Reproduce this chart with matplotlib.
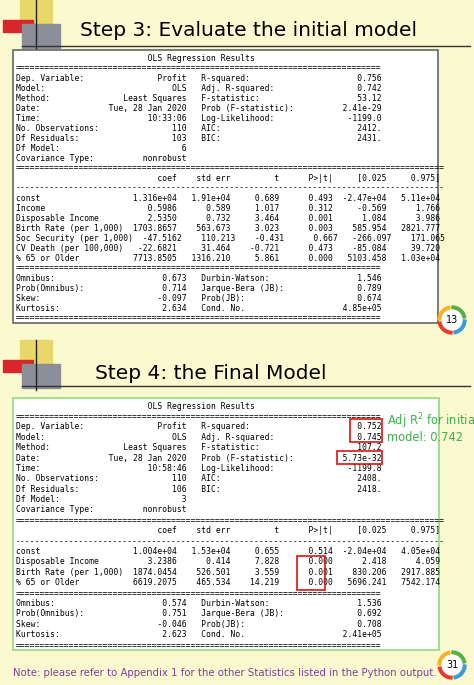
import matplotlib.pyplot as plt
from matplotlib.patches import Rectangle, Circle, Wedge

# ---- data: initial model (step 3) ----
info1_left = [("Dep. Variable:", "Profit"), ("Model:", "OLS"), ("Method:", "Least Squares"),
              ("Date:", "Tue, 28 Jan 2020"), ("Time:", "10:33:06"), ("No. Observations:", "110"),
              ("Df Residuals:", "103"), ("Df Model:", "6"), ("Covariance Type:", "nonrobust")]
info1_right = [("R-squared:", "0.756"), ("Adj. R-squared:", "0.742"), ("F-statistic:", "53.12"),
               ("Prob (F-statistic):", "2.41e-29"), ("Log-Likelihood:", "-1199.0"), ("AIC:", "2412."),
               ("BIC:", "2431."), ("", ""), ("", "")]
coef1_names = ["const", "Income", "Disposable Income", "Birth Rate (per 1,000)",
               "Soc Security (per 1,000)", "CV Death (per 100,000)", "% 65 or Older"]
coef1_vals = [["1.316e+04", "1.91e+04", "0.689", "0.493", "-2.47e+04", "5.11e+04"],
              ["0.5986", "0.589", "1.017", "0.312", "-0.569", "1.766"],
              ["2.5350", "0.732", "3.464", "0.001", "1.084", "3.986"],
              ["1703.8657", "563.673", "3.023", "0.003", "585.954", "2821.777"],
              ["-47.5162", "110.213", "-0.431", "0.667", "-266.097", "171.065"],
              ["-22.6821", "31.464", "-0.721", "0.473", "-85.084", "39.720"],
              ["7713.8505", "1316.210", "5.861", "0.000", "5103.458", "1.03e+04"]]
diag1 = [("Omnibus:", "0.673", "Durbin-Watson:", "1.546"), ("Prob(Omnibus):", "0.714", "Jarque-Bera (JB):", "0.789"),
         ("Skew:", "-0.097", "Prob(JB):", "0.674"), ("Kurtosis:", "2.634", "Cond. No.", "4.85e+05")]

# ---- data: final model (step 4) ----
info2_left = [("Dep. Variable:", "Profit"), ("Model:", "OLS"), ("Method:", "Least Squares"),
              ("Date:", "Tue, 28 Jan 2020"), ("Time:", "10:58:46"), ("No. Observations:", "110"),
              ("Df Residuals:", "106"), ("Df Model:", "3"), ("Covariance Type:", "nonrobust")]
info2_right = [("R-squared:", "0.752"), ("Adj. R-squared:", "0.745"), ("F-statistic:", "107.2"),
               ("Prob (F-statistic):", "5.73e-32"), ("Log-Likelihood:", "-1199.8"), ("AIC:", "2408."),
               ("BIC:", "2418."), ("", ""), ("", "")]
coef2_names = ["const", "Disposable Income", "Birth Rate (per 1,000)", "% 65 or Older"]
coef2_vals = [["1.004e+04", "1.53e+04", "0.655", "0.514", "-2.04e+04", "4.05e+04"],
              ["3.2386", "0.414", "7.828", "0.000", "2.418", "4.059"],
              ["1874.0454", "526.501", "3.559", "0.001", "830.206", "2917.885"],
              ["6619.2075", "465.534", "14.219", "0.000", "5696.241", "7542.174"]]
diag2 = [("Omnibus:", "0.574", "Durbin-Watson:", "1.536"), ("Prob(Omnibus):", "0.751", "Jarque-Bera (JB):", "0.692"),
         ("Skew:", "-0.046", "Prob(JB):", "0.708"), ("Kurtosis:", "2.623", "Cond. No.", "2.41e+05")]

headers = ["coef", "std err", "t", "P>|t|", "[0.025", "0.975]"]
widths = [10, 11, 10, 11, 11, 11]


def summary_lines(left, right, names, vals, diag):
    lines = ["OLS Regression Results".center(75), "=" * 75]
    for (a, b), (c, d) in zip(left, right):
        lines.append(f"{a:<19}{b:>16}   {c:<21}{d:>16}")
    lines.append("=" * 88)
    lines.append(" " * 23 + "".join(f"{h:>{w}}" for h, w in zip(headers, widths)))
    lines.append("-" * 88)
    for n, v in zip(names, vals):
        lines.append(f"{n:<23}" + "".join(f"{x:>{w}}" for x, w in zip(v, widths)))
    lines.append("=" * 75)
    for a, b, c, d in diag:
        lines.append(f"{a:<19}{b:>16}   {c:<21}{d:>16}")
    lines.append("=" * 75)
    return lines


W, H = 474, 685
fig = plt.figure(figsize=(W / 100, H / 100), dpi=100)
fig.patch.set_facecolor("#fbf9cf")
ax = fig.add_axes([0, 0, 1, 1])
ax.set_xlim(0, W)
ax.set_ylim(H, 0)
ax.axis("off")

mono = "DejaVu Sans Mono"


def slide(y0, title, tx, ty, lines, y_first, step, box, edge, page):
    # decorative picture in the corner
    ax.add_patch(Rectangle((20, y0), 32, 24, color="#e8d86a", zorder=1))
    ax.add_patch(Rectangle((3, y0 + 20), 30, 12, color="#d8262a", zorder=1))
    ax.add_patch(Rectangle((22, y0 + 24), 38, 24, color="#8c8f9a", zorder=1))
    ax.plot([22, 470], [y0 + 46, y0 + 46], color="#333333", lw=1, zorder=2)
    ax.plot([36, 36], [y0, y0 + 50], color="#222222", lw=1, zorder=2)
    ax.text(tx, ty, title, fontsize=14.5, ha="left", va="center", family="DejaVu Sans", zorder=3)
    bx0, by0, bx1, by1 = box
    ax.add_patch(Rectangle((bx0, by0), bx1 - bx0, by1 - by0, facecolor="white",
                           edgecolor=edge, lw=1.2, zorder=2))
    for i, ln in enumerate(lines):
        ax.text(16, y_first + i * step, ln, family=mono, fontsize=5.75, ha="left",
                va="center", zorder=4)
    # page badge
    cx, cy = 452, y0 + page[1]
    colors = ["#3a9bd6", "#e83b2c", "#f5b324", "#55b046"]
    for k, c in enumerate(colors):
        ax.add_patch(Wedge((cx, cy), 14, 90 * k, 90 * k + 80, width=4, color=c, zorder=5))
    ax.add_patch(Circle((cx, cy), 10, color="white", zorder=5))
    ax.text(cx, cy, page[0], fontsize=7, ha="center", va="center", zorder=6)


slide(0, "Step 3: Evaluate the initial model", 80, 30,
      summary_lines(info1_left, info1_right, coef1_names, coef1_vals, diag1),
      58, 10, (13, 50, 438, 323), "#666666", ("13", 320))
slide(340, "Step 4: the Final Model", 95, 373,
      summary_lines(info2_left, info2_right, coef2_names, coef2_vals, diag2),
      406, 10.4, (13, 398, 439, 650), "#8fdc7a", ("31", 325))

red = "#e01010"
for (x0, y0, x1, y1) in [(350, 419, 382, 442), (337, 451, 382, 464), (297, 556, 325, 590)]:
    ax.add_patch(Rectangle((x0, y0), x1 - x0, y1 - y0, fill=False, edgecolor=red, lw=1.2, zorder=7))

ax.text(387, 421, "Adj R$^2$ for initial", color="#3cb04a", fontsize=8.3, ha="left", va="center", zorder=8)
ax.text(387, 437, "model: 0.742", color="#3cb04a", fontsize=8.3, ha="left", va="center", zorder=8)
ax.text(13, 673, "Note: please refer to Appendix 1 for the other Statistics listed in the Python output.",
        color="#7a3fa0", fontsize=7.3, ha="left", va="center", zorder=8)

fig.savefig("out.png", dpi=100, facecolor=fig.get_facecolor())
